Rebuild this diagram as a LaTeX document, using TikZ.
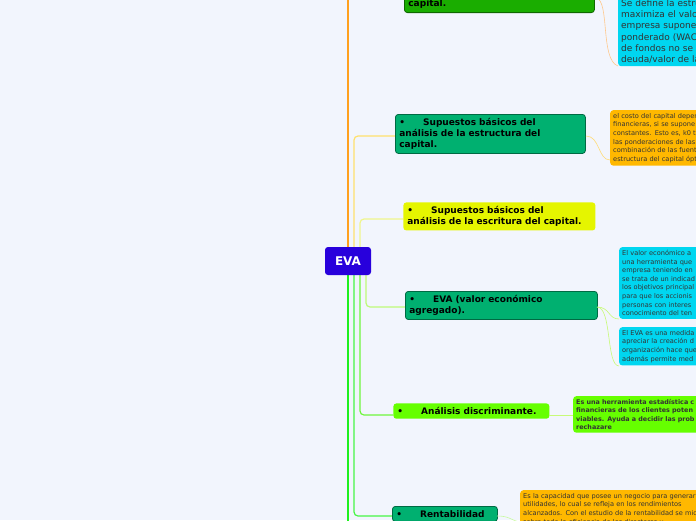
\documentclass[tikz,border=0pt]{standalone}
\usepackage{fontspec}
\setmainfont{DejaVu Sans}
\begin{document}
\begin{tikzpicture}[x=1pt,y=-1pt,
  topic/.style={draw=#1!60!black,rounded corners=3pt,line width=0.8pt,align=left,anchor=north west,inner sep=4pt,font=\bfseries\fontsize{9}{11}\selectfont},
  note/.style={rounded corners=3pt,align=left,anchor=north west,inner sep=3pt,font=\fontsize{6.6}{8.6}\selectfont,text=black!80},
  lnk/.style={line width=1.2pt,rounded corners=4pt}]
\clip (0,0) rectangle (696,520);
\fill[fill={rgb,255:red,242;green,245;blue,253}] (0,0) rectangle (696,520);
\definecolor{gA}{RGB}{26,173,0}
\definecolor{gB}{RGB}{0,176,112}
\definecolor{yA}{RGB}{229,245,0}
\definecolor{lA}{RGB}{102,255,0}
\definecolor{cA}{RGB}{0,214,240}
\definecolor{oA}{RGB}{255,184,0}
\definecolor{blueA}{RGB}{40,0,220}
% connectors
\draw[lnk,draw={rgb,255:red,255;green,160;blue,30}] (348,248) -- (348,-10);
\draw[lnk,draw={rgb,255:red,255;green,225;blue,110}] (354,248) -- (354,136) -- (395,136);
\draw[lnk,draw={rgb,255:red,240;green,245;blue,140}] (360,248) -- (360,219) -- (403,219);
\draw[lnk,draw={rgb,255:red,30;green,240;blue,30}] (348,275) -- (348,530);
\draw[lnk,draw={rgb,255:red,70;green,245;blue,70}] (354,275) -- (354,516) -- (392,516);
\draw[lnk,draw={rgb,255:red,110;green,245;blue,60}] (360,275) -- (360,415) -- (393,415);
\draw[lnk,draw={rgb,255:red,190;green,250;blue,120}] (366,275) -- (366,307) -- (405,307);
% nodes
\node[fill=blueA,rounded corners=3pt,text=white,font=\bfseries\fontsize{12}{14}\selectfont,minimum width=46pt,minimum height=28pt,inner sep=0pt] (eva) at (348,261) {EVA};
\node[topic=gA,fill=gA,text width=182pt,anchor=south west] (n1) at (404,13) {capital.};
\node[note,fill=cA,text width=170pt,font=\fontsize{9}{11.2}\selectfont] (c1) at (618,-4) {Se define la estructura óptima\\maximiza el valor de la\\empresa suponemos\\ponderado (WACC)\\de fondos no se\\deuda/valor de la};
\node[topic=gB,fill=gB,text width=182pt] (n2) at (395,114) {\textbullet\qquad Supuestos básicos del\\análisis de la estructura del\\capital.};
\node[note,fill=oA,text width=120pt] (o2) at (610,110) {el costo del capital depende\\financieras, si se supone\\constantes. Esto es, k0 tr\\las ponderaciones de las\\combinación de las fuentes\\estructura del capital ópt};
\node[topic=yA,fill=yA,draw=none,text width=184pt] (n3) at (403,202) {\textbullet\qquad Supuestos básicos del\\análisis de la escritura del capital.};
\node[topic=gB,fill=gB,text width=184pt] (n4) at (405,291) {\textbullet\qquad EVA (valor económico\\agregado).};
\node[note,fill=cA,text width=110pt] (c4a) at (619,247) {El valor económico a\\una herramienta que\\empresa teniendo en\\se trata de un indicad\\los objetivos principal\\para que los accionis\\personas con interes\\conocimiento del ten};
\node[note,fill=cA,text width=110pt] (c4b) at (619,327) {El EVA es una medida\\apreciar la creación d\\organización hace que\\además permite med};
\node[topic=lA,fill=lA,draw=none,text width=148pt] (n5) at (393,403) {\textbullet\qquad Análisis discriminante.};
\node[note,fill=lA,text width=160pt,font=\bfseries\fontsize{6.4}{8.4}\selectfont] (l5) at (573,396) {Es una herramienta estadística c\\financieras de los clientes poten\\viables. Ayuda a decidir las prob\\rechazare};
\node[topic=gB,fill=gB,text width=97pt] (n6) at (392,506) {\textbullet\qquad Rentabilidad};
\node[note,fill=oA,text width=200pt] (o6) at (520,490) {Es la capacidad que posee un negocio para generar\\utilidades, lo cual se refleja en los rendimientos\\alcanzados. Con el estudio de la rentabilidad se mide\\sobre todo la eficiencia de los directores y};
% sub connectors
\draw[line width=0.6pt,draw={rgb,255:red,255;green,200;blue,140}] (596,-2) .. controls (610,0) and (600,60) .. (618,66);
\draw[line width=0.6pt,draw={rgb,255:red,255;green,220;blue,120}] (586,136) .. controls (600,136) and (598,160) .. (610,160);
\draw[line width=0.6pt,draw={rgb,255:red,200;green,250;blue,120}] (597,307) .. controls (610,307) and (608,319) .. (619,319);
\draw[line width=0.6pt,draw={rgb,255:red,200;green,250;blue,120}] (597,307) .. controls (612,307) and (606,366) .. (619,366);
\draw[line width=0.6pt,draw={rgb,255:red,200;green,250;blue,120}] (549,415) -- (573,415);
\draw[line width=0.6pt,draw={rgb,255:red,200;green,250;blue,160}] (497,516) .. controls (510,516) and (510,520) .. (520,522);
\end{tikzpicture}
\end{document}
